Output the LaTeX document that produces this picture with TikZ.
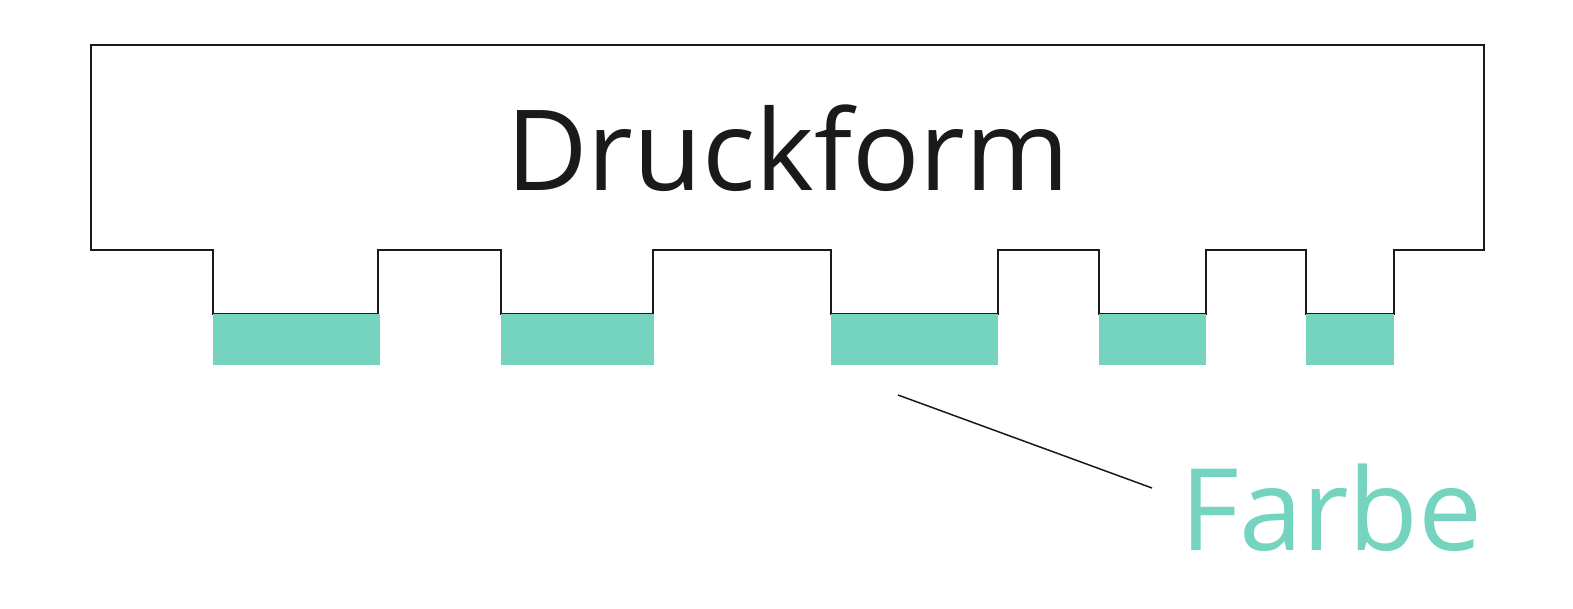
\documentclass[tikz,border=0pt]{standalone}
\usepackage{fontspec}
\setmainfont{Open Sans}
\definecolor{farbe}{HTML}{74D4C0}
\definecolor{ink}{HTML}{1A1A1A}
\begin{document}
\begin{tikzpicture}[x=1pt,y=-1pt,
  ink/.style={fill=farbe,draw=none},
  outline/.style={draw=ink,line width=1.6pt}]
\useasboundingbox (0,0) rectangle (1573,608);
\draw[outline] (91,45) -- (1484,45) -- (1484,250) -- (1394,250) -- (1394,314) -- (1306,314) -- (1306,250)
 -- (1206,250) -- (1206,314) -- (1099,314) -- (1099,250) -- (998,250) -- (998,314) -- (831,314) -- (831,250)
 -- (653,250) -- (653,314) -- (501,314) -- (501,250) -- (378,250) -- (378,314) -- (213,314) -- (213,250)
 -- (91,250) -- cycle;
\fill[ink] (213,314) rectangle (380,365);
\fill[ink] (501,314) rectangle (654,365);
\fill[ink] (831,314) rectangle (998,365);
\fill[ink] (1099,314) rectangle (1206,365);
\fill[ink] (1306,314) rectangle (1394,365);
\node[anchor=base,inner sep=0,text=ink,font=\fontsize{112}{112}\selectfont] (druck) at (788,190) {Druckform};
\node[anchor=base west,inner sep=0,text=farbe,font=\fontsize{114}{114}\selectfont] (farbe) at (1180,550) {Farbe};
\coordinate (a) at (898,395);
\coordinate (b) at (1152,488);
\draw[draw=ink,line width=1.5pt] (a) -- (b);
\end{tikzpicture}
\end{document}
